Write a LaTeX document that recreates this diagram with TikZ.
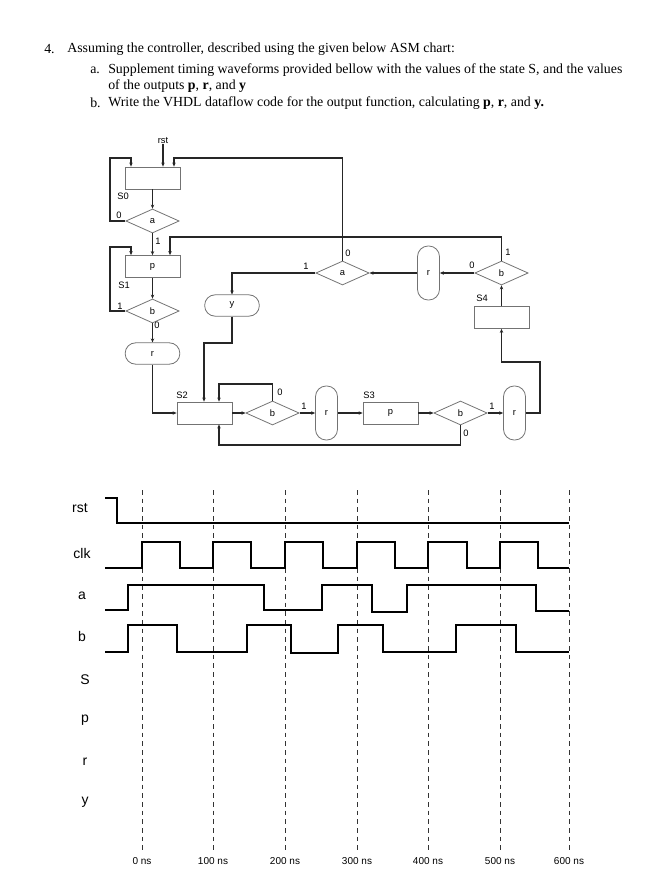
\documentclass[tikz,border=0pt]{standalone}
\usepackage{fontspec}
\setmainfont{Liberation Serif}
\setsansfont{Liberation Sans}
\usetikzlibrary{shapes.geometric,arrows.meta}
\begin{document}
\begin{tikzpicture}[x=0.75pt,y=-0.75pt,
  lbl/.style={font=\sffamily\fontsize{7}{8}\selectfont, inner sep=0},
  box/.style={draw=black!55, line width=0.6pt, minimum width=41.25pt, minimum height=16.5pt, inner sep=0, font=\sffamily\fontsize{7}{8}\selectfont},
  dia/.style={diamond, draw=black!55, line width=0.6pt, minimum width=40pt, minimum height=18pt, inner sep=0, aspect=2.2, font=\sffamily\fontsize{7}{8}\selectfont},
  hov/.style={draw=black!55, line width=0.6pt, rounded corners=7.8pt, minimum width=41pt, minimum height=16pt, inner sep=0, font=\sffamily\fontsize{7}{8}\selectfont},
  vov/.style={draw=black!55, line width=0.6pt, rounded corners=8pt, minimum width=16.5pt, minimum height=40.5pt, inner sep=0, font=\sffamily\fontsize{7}{8}\selectfont},
  arr/.style={draw=black!85, line width=0.8pt, -{Stealth[length=3pt,width=2.6pt]}},
  wave/.style={draw=black, line width=1pt},
  grid/.style={draw=black!80, line width=0.7pt, dash pattern=on 3.5pt off 3pt},
  wl/.style={font=\sffamily\fontsize{10.5}{12}\selectfont},
  tl/.style={font=\sffamily\fontsize{7.5}{9}\selectfont},
  tx/.style={font=\fontsize{10.4}{12}\selectfont, anchor=west, inner sep=0}]
\useasboundingbox (0,0) rectangle (667,877);
% heading
\node[tx] (t1) at (44,49) {4.};
\node[tx] (t2) at (67,49) {Assuming the controller, described using the given below ASM chart:};
\node[tx] (t3) at (90,70) {a.};
\node[tx] (t4) at (108,70) {Supplement timing waveforms provided bellow with the values of the state S, and the values};
\node[tx] (t5) at (108,86) {of the outputs \textbf{p}, \textbf{r}, and \textbf{y}};
\node[tx] (t6) at (90,103) {b.};
\node[tx] (t7) at (108,103) {Write the VHDL dataflow code for the output function, calculating \textbf{p}, \textbf{r}, and \textbf{y.}};
% ASM nodes
\node[box] (s0) at (152.5,178) {};
\node[dia] (a0) at (152.5,221) {a};
\node[box] (s1) at (152.5,266.5) {p};
\node[dia] (b1) at (152.5,311) {b};
\node[hov] (r1) at (152.5,353.5) {r};
\node[box] (s2) at (204.5,413) {};
\node[dia] (b2) at (272.5,413) {b};
\node[vov] (r2) at (326.5,413) {r};
\node[box] (s3) at (390.5,413) {p};
\node[dia] (b3) at (460.5,413) {b};
\node[vov] (r3) at (514.5,413) {r};
\node[box] (s4) at (501.5,317.5) {};
\node[dia] (b4) at (501.5,273) {b};
\node[vov] (r4) at (428.5,273) {r};
\node[dia] (a4) at (342.5,273) {a};
\node[hov] (yo) at (232,305.5) {y};
% labels
\node[lbl] (rstl) at (163,141) {rst};
\node[lbl] (l0) at (123,196) {S0};
\node[lbl] (l1) at (124,285) {S1};
\node[lbl] (l2) at (182,395) {S2};
\node[lbl] (l3) at (369,395) {S3};
\node[lbl] (l4) at (482,298) {S4};
\node[lbl] (n1) at (119,215) {0};
\node[lbl] (n2) at (158,241) {1};
\node[lbl] (n3) at (120,306) {1};
\node[lbl] (n4) at (157,325) {0};
\node[lbl] (n5) at (306,266) {1};
\node[lbl] (n6) at (348,253) {0};
\node[lbl] (n7) at (472,265) {0};
\node[lbl] (n8) at (508,252) {1};
\node[lbl] (n9) at (280,392) {0};
\node[lbl] (n10) at (304,406) {1};
\node[lbl] (n11) at (492,406) {1};
\node[lbl] (n12) at (466,433) {0};
% coordinates
\coordinate (k1) at (131,158);
\coordinate (k2) at (174,158);
\coordinate (k3) at (170,237);
\coordinate (k4) at (131,247);
\coordinate (k5) at (204,343);
\coordinate (k6) at (219,384);
\coordinate (k7) at (219,445);
\coordinate (k8) at (110,158);
\coordinate (k9) at (110,247);
\coordinate (k10) at (540,362);
% connectors
\draw[arr] (rstl) -- (rstl|-s0.north);
\draw[arr] (a0.west) -| (k8) -- (k1) -- (k1|-s0.north);
\draw[arr] (a4.north) |- (k2) -- (k2|-s0.north);
\draw[arr] (s0.south) -- (a0.north);
\draw[arr] (a0.south) -- (s1.north);
\draw[arr] (b4.north) |- (k3) -- (k3|-s1.north);
\draw[arr] (s1.south) -- (b1.north);
\draw[arr] (b1.west) -| (k9) -- (k4) -- (k4|-s1.north);
\draw[arr] (b1.south) -- (r1.north);
\draw[arr] (r1.south) |- (s2.west);
\draw[arr] (a4.west) -| (yo.north);
\draw[arr] (yo.south) |- (k5) -- (k5|-s2.north);
\draw[arr] (s2.east) -- (b2.west);
\draw[arr] (b2.north) |- (k6) -- (k6|-s2.north);
\draw[arr] (b2.east) -- (r2.west);
\draw[arr] (r2.east) -- (s3.west);
\draw[arr] (s3.east) -- (b3.west);
\draw[arr] (b3.south) |- (k7) -- (k7|-s2.south);
\draw[arr] (b3.east) -- (r3.west);
\draw[arr] (r3.east) -| (k10) -| (s4.south);
\draw[arr] (s4.north) -- (b4.south);
\draw[arr] (b4.west) -- (r4.east);
\draw[arr] (r4.west) -- (a4.east);
% waveform grid
\foreach \x/\t in {142/0 ns,213/100 ns,285/200 ns,357/300 ns,428/400 ns,500/500 ns,569/600 ns}{
  \draw[grid] (\x,490) -- (\x,850);
  \node[tl] at (\x,861) {\t};
}
\node[wl] (w1) at (80,508) {rst};
\node[wl] (w2) at (82,553) {clk};
\node[wl] (w3) at (82,596) {a};
\node[wl] (w4) at (82,636) {b};
\node[wl] (w5) at (85,680) {S};
\node[wl] (w6) at (85,720) {p};
\node[wl] (w7) at (85,762) {r};
\node[wl] (w8) at (85,802) {y};
\draw[wave] (105,498) -- (117,498) -- (117,523) -- (569,523);
\draw[wave] (105,568) -- (142,568) -- (142,542) -- (180,542) -- (180,568) -- (213,568) -- (213,542) -- (251,542) -- (251,568) -- (285,568) -- (285,542) -- (323,542) -- (323,568) -- (357,568) -- (357,542) -- (395,542) -- (395,568) -- (428,568) -- (428,542) -- (467,542) -- (467,568) -- (500,568) -- (500,542) -- (538,542) -- (538,568) -- (569,568);
\draw[wave] (105,610) -- (128,610) -- (128,585) -- (264,585) -- (264,610) -- (322,610) -- (322,585) -- (372,585) -- (372,612) -- (407,612) -- (407,585) -- (536,585) -- (536,611) -- (569,611);
\draw[wave] (105,652) -- (128,652) -- (128,625) -- (177,625) -- (177,652) -- (247,652) -- (247,625) -- (291,625) -- (291,653) -- (338,653) -- (338,625) -- (383,625) -- (383,652) -- (456,652) -- (456,625) -- (516,625) -- (516,652) -- (569,652);
\end{tikzpicture}
\end{document}
